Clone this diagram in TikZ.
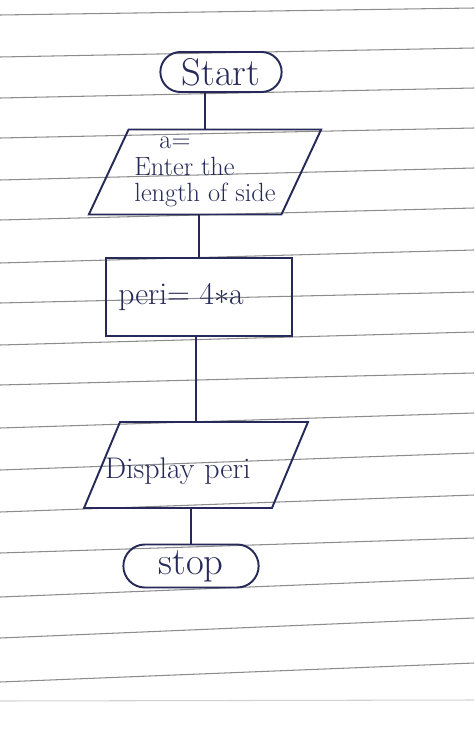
\documentclass[tikz,border=0pt]{standalone}
\usetikzlibrary{shapes.geometric,shapes.misc}
\definecolor{inkblue}{RGB}{38,42,88}
\definecolor{ruleline}{RGB}{140,140,140}
\begin{document}
\begin{tikzpicture}[x=0.02cm,y=-0.02cm,
  ink/.style={draw=inkblue,line width=1.1pt,text=inkblue},
  terminal/.style={ink,rounded rectangle,font=\fontsize{22}{24}\selectfont},
  iobox/.style={ink,trapezium,trapezium stretches body,align=left},
  procbox/.style={ink,rectangle,font=\fontsize{18}{20}\selectfont},
  ruled/.style={draw=ruleline,line width=0.6pt}]
\useasboundingbox (0,0) rectangle (474,737);
%
% Lignes du cahier
\foreach \l/\r in {15/8,57/48,98/88,138/128,180/168,220/208,263/250,303/292,345/332,
                   385/373,428/413,470/453,512/495,553/538,597/578,638/618,682/663}
  \draw [ruled] (0,\l) -- (474,\r);
\draw [gray!35,line width=0.6pt] (0,701) -- (474,700);
%
% Blocs
\node [terminal,minimum width=2.66cm,minimum height=0.8cm] (start) at (221,72) {Start};
\node [iobox,minimum width=4.64cm,minimum height=1.7cm,font=\fontsize{15}{15}\selectfont,
       trapezium left angle=64,trapezium right angle=116] (input) at (205,172)
      {\hspace*{0.5cm}a=\\Enter the\\length of side};
\node [procbox,minimum width=3.72cm,minimum height=1.56cm] (peri) at (199,297)
      {peri= 4$*$a\hspace*{0.72cm}};
\node [iobox,inner sep=0pt,text width=3.04cm,text height=1.12cm,text depth=0.6cm,
       font=\fontsize{17}{17}\selectfont,
       trapezium left angle=67.3,trapezium right angle=112.7] (display) at (196,465)
      {\hspace*{-0.3cm}Display peri};
\node [terminal,minimum width=2.94cm,minimum height=0.72cm] (stop) at (191,566) {stop};
%
% Liaisons
\draw [ink] (input.north |- start.south) -- (input.north);
\draw [ink] (input.south -| peri.north) -- (peri.north);
\draw [ink] (peri.south -| display.north) -- (display.north);
\draw [ink] (display.south -| stop.north) -- (stop.north);
%
\end{tikzpicture}
\end{document}
